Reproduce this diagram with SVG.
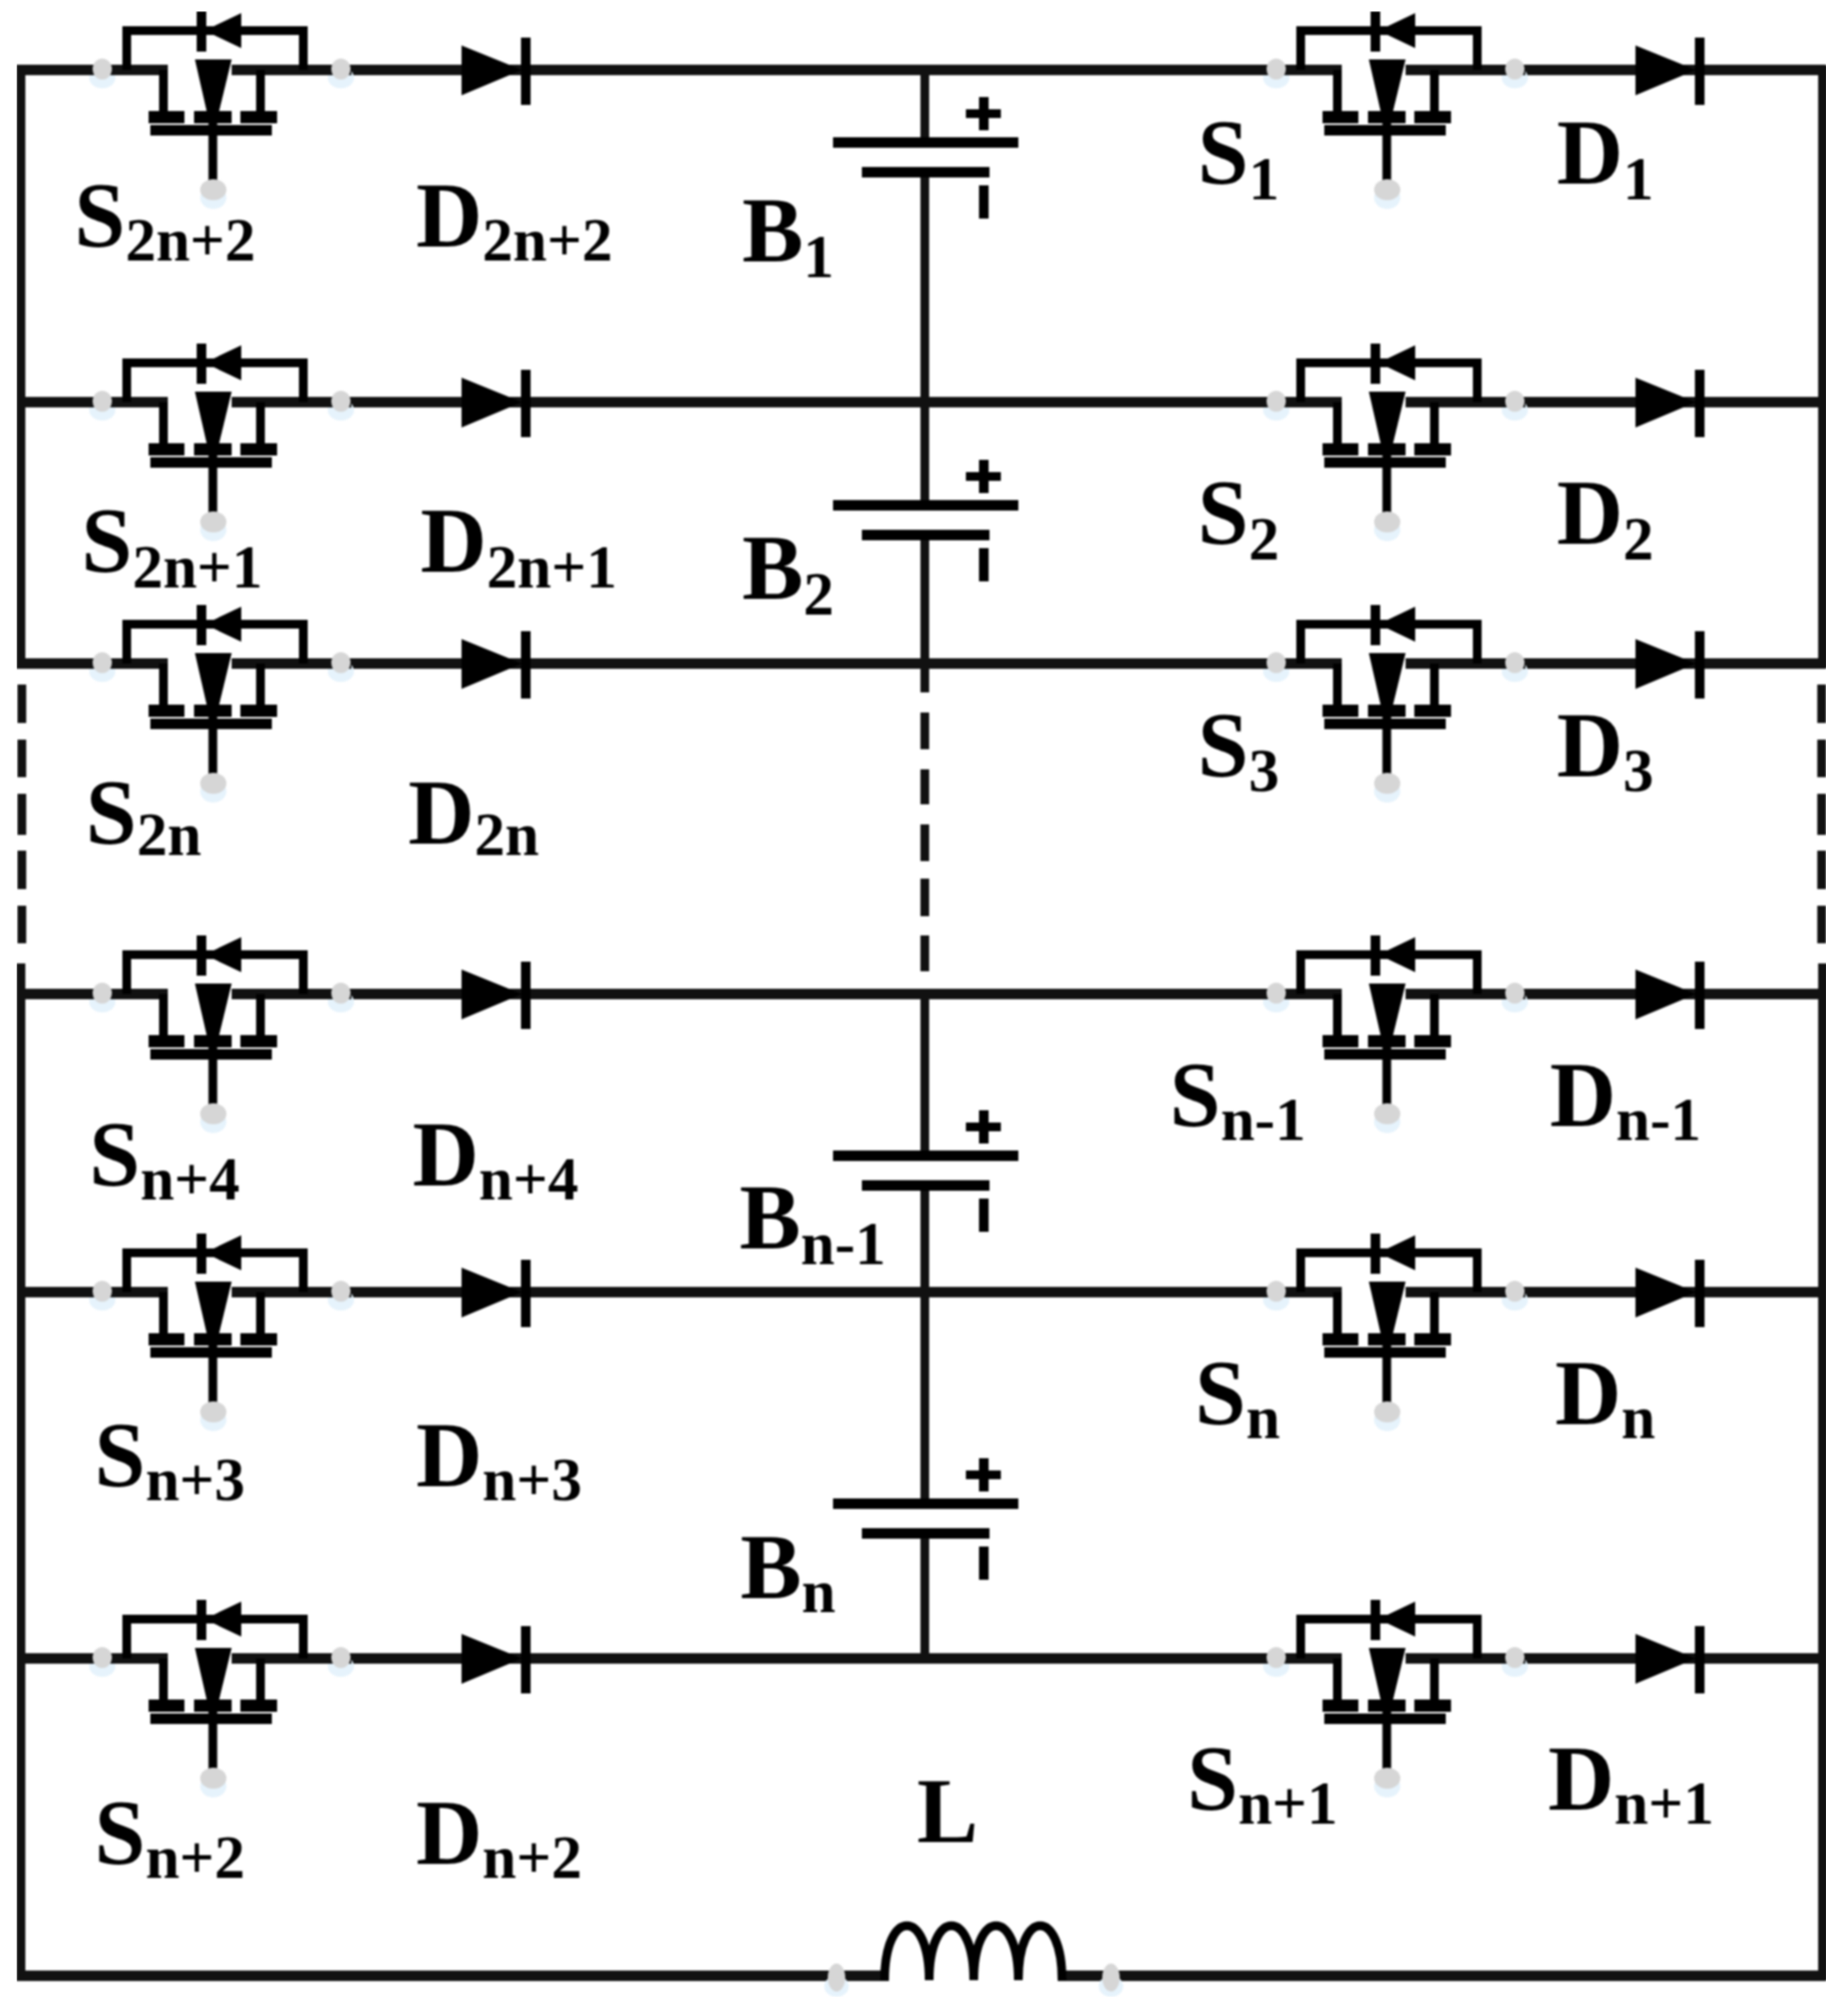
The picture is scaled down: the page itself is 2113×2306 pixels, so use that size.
<svg xmlns="http://www.w3.org/2000/svg" xmlns:xlink="http://www.w3.org/1999/xlink" width="2113" height="2306" viewBox="0 0 2113 2306">
<style>
.w{fill:none;stroke:#111;stroke-width:12}
.r{fill:none;stroke:#111;stroke-width:10}
.t{fill:none;stroke:#000;stroke-width:10}
.b{fill:#000;stroke:none}
.dot{fill:#d6d6d6}
.glow{fill:#e6f3fc}
text{font-family:"Liberation Serif","Times New Roman",serif;font-weight:bold;font-size:105px;fill:#000}
.s{font-size:70px}
</style>
<defs>
<filter id="soft" x="0" y="0" width="100%" height="100%" filterUnits="objectBoundingBox" color-interpolation-filters="sRGB"><feGaussianBlur stdDeviation="0.9"/></filter>
<g id="sw">
<ellipse class="glow" cx="117" cy="9" rx="15" ry="12"/>
<ellipse class="glow" cx="390" cy="9" rx="15" ry="12"/>
<ellipse class="glow" cx="244" cy="146" rx="15" ry="13"/>
<path class="w" d="M192 0H100"/>
<path class="w" d="M265 0H402"/>
<path class="t" d="M145 0V-45H347V0"/>
<path class="t" d="M187 0V54M298 0V54M243.500 60V128"/>
<rect class="b" x="170" y="47" width="41" height="14"/>
<rect class="b" x="222" y="47" width="43" height="14"/>
<rect class="b" x="275" y="47" width="42" height="14"/>
<rect class="b" x="172" y="63" width="139" height="12"/>
<path class="b" d="M223-12H265L249 54H238Z"/>
<path class="b" d="M234-45L276-65V-25Z"/>
<rect class="b" x="225" y="-67" width="11" height="46"/>
<ellipse class="dot" cx="117" cy="-1" rx="11" ry="12"/>
<ellipse class="dot" cx="390" cy="-1" rx="11" ry="12"/>
<ellipse class="dot" cx="244" cy="137" rx="15" ry="12"/>
</g>
<g id="di">
<path class="b" d="M528-28L597 0L528 29Z"/>
<rect class="b" x="596" y="-37" width="11" height="77"/>
</g>
<g id="bat">
<rect class="b" x="953" y="-6" width="212" height="12"/>
<rect class="b" x="986" y="28" width="146" height="12"/>
<rect class="b" x="1105" y="-38" width="40" height="10"/>
<rect class="b" x="1120" y="-52" width="11" height="38"/>
<rect class="b" x="1120" y="49" width="11" height="38"/>
</g>
</defs>
<rect width="2113" height="2306" fill="#fff"/>
<g filter="url(#soft)">
<g id="connectors">
<path class="w" d="M19 80H102M402 80H1460M1608 80H2089"/>
<path class="w" d="M19 460H102M402 460H1460M1608 460H2089"/>
<path class="w" d="M19 759H102M402 759H1460M1608 759H2089"/>
<path class="w" d="M19 1137H102M402 1137H1460M1608 1137H2089"/>
<path class="w" d="M19 1478H102M402 1478H1460M1608 1478H2089"/>
<path class="w" d="M19 1897H102M402 1897H1460M1608 1897H2089"/>
<path class="w" d="M19 2260H1017M1210 2260H2089"/>
<path class="r" d="M24 75V764M24 1102V2265M2085 75V764M2085 1102V2265"/>
<path class="r" d="M25 783V827M25 846V889M25 908V955M25 973V1017M25 1036V1079"/>
<path class="r" d="M2084 783V827M2084 846V889M2084 908V955M2084 973V1017M2084 1036V1079"/>
<path class="r" d="M1058 80V163M1058 197V578M1058 610V792M1058 815V857M1058 880V920M1058 943V985M1058 1005V1048M1058 1070V1111M1058 1137V1322M1058 1355V1720M1058 1754V1897"/>
</g>
<g id="S2n2"><use xlink:href="#sw" href="#sw" y="80"/><text x="85" y="282">S<tspan class="s" dy="16">2n+2</tspan></text></g>
<g id="D2n2"><use xlink:href="#di" href="#di" y="80"/><text x="476" y="282">D<tspan class="s" dy="16">2n+2</tspan></text></g>
<g id="S2n1"><use xlink:href="#sw" href="#sw" y="460"/><text x="93" y="654">S<tspan class="s" dy="18">2n+1</tspan></text></g>
<g id="D2n1"><use xlink:href="#di" href="#di" y="460"/><text x="481" y="654">D<tspan class="s" dy="18">2n+1</tspan></text></g>
<g id="S2n"><use xlink:href="#sw" href="#sw" y="759"/><text x="98" y="965">S<tspan class="s" dy="13">2n</tspan></text></g>
<g id="D2n"><use xlink:href="#di" href="#di" y="759"/><text x="467" y="965">D<tspan class="s" dy="13">2n</tspan></text></g>
<g id="Sn4"><use xlink:href="#sw" href="#sw" y="1137"/><text x="102" y="1356">S<tspan class="s" dy="16">n+4</tspan></text></g>
<g id="Dn4"><use xlink:href="#di" href="#di" y="1137"/><text x="472" y="1356">D<tspan class="s" dy="16">n+4</tspan></text></g>
<g id="Sn3"><use xlink:href="#sw" href="#sw" y="1478"/><text x="108" y="1700">S<tspan class="s" dy="16">n+3</tspan></text></g>
<g id="Dn3"><use xlink:href="#di" href="#di" y="1478"/><text x="476" y="1700">D<tspan class="s" dy="16">n+3</tspan></text></g>
<g id="Sn2"><use xlink:href="#sw" href="#sw" y="1897"/><text x="108" y="2132">S<tspan class="s" dy="16">n+2</tspan></text></g>
<g id="Dn2"><use xlink:href="#di" href="#di" y="1897"/><text x="476" y="2132">D<tspan class="s" dy="16">n+2</tspan></text></g>
<g id="S1"><use xlink:href="#sw" href="#sw" x="1343" y="80"/><text x="1370" y="210">S<tspan class="s" dy="18">1</tspan></text></g>
<g id="D1"><use xlink:href="#di" href="#di" x="1343" y="80"/><text x="1781" y="210">D<tspan class="s" dy="18">1</tspan></text></g>
<g id="S2"><use xlink:href="#sw" href="#sw" x="1343" y="460"/><text x="1370" y="622">S<tspan class="s" dy="18">2</tspan></text></g>
<g id="D2"><use xlink:href="#di" href="#di" x="1343" y="460"/><text x="1781" y="622">D<tspan class="s" dy="18">2</tspan></text></g>
<g id="S3"><use xlink:href="#sw" href="#sw" x="1343" y="759"/><text x="1370" y="888">S<tspan class="s" dy="17">3</tspan></text></g>
<g id="D3"><use xlink:href="#di" href="#di" x="1343" y="759"/><text x="1781" y="888">D<tspan class="s" dy="17">3</tspan></text></g>
<g id="Sn1m"><use xlink:href="#sw" href="#sw" x="1343" y="1137"/><text x="1338" y="1288">S<tspan class="s" dy="16">n-1</tspan></text></g>
<g id="Dn1m"><use xlink:href="#di" href="#di" x="1343" y="1137"/><text x="1773" y="1288">D<tspan class="s" dy="16">n-1</tspan></text></g>
<g id="Sn"><use xlink:href="#sw" href="#sw" x="1343" y="1478"/><text x="1367" y="1629">S<tspan class="s" dy="16">n</tspan></text></g>
<g id="Dn"><use xlink:href="#di" href="#di" x="1343" y="1478"/><text x="1779" y="1629">D<tspan class="s" dy="16">n</tspan></text></g>
<g id="Sn1"><use xlink:href="#sw" href="#sw" x="1343" y="1897"/><text x="1358" y="2070">S<tspan class="s" dy="16">n+1</tspan></text></g>
<g id="Dn1"><use xlink:href="#di" href="#di" x="1343" y="1897"/><text x="1771" y="2070">D<tspan class="s" dy="16">n+1</tspan></text></g>
<g id="B1"><use xlink:href="#bat" href="#bat" y="163"/><text x="849" y="299">B<tspan class="s" dy="18">1</tspan></text></g>
<g id="B2"><use xlink:href="#bat" href="#bat" y="578"/><text x="849" y="685">B<tspan class="s" dy="18">2</tspan></text></g>
<g id="Bn1"><use xlink:href="#bat" href="#bat" y="1322"/><text x="846" y="1428">B<tspan class="s" dy="18">n-1</tspan></text></g>
<g id="Bn"><use xlink:href="#bat" href="#bat" y="1720"/><text x="847" y="1828">B<tspan class="s" dy="16">n</tspan></text></g>
<g id="L">
<ellipse class="glow" cx="957" cy="2272" rx="14" ry="12"/>
<ellipse class="glow" cx="1271" cy="2272" rx="14" ry="12"/>
<path fill="none" stroke="#000" stroke-width="10" d="M1012 2265C1012 2182 1063 2182 1063 2265C1063 2182 1114 2182 1114 2265C1114 2182 1165 2182 1165 2265C1165 2182 1215 2182 1215 2265"/>
<ellipse class="dot" cx="957" cy="2262" rx="10" ry="16"/>
<ellipse class="dot" cx="1271" cy="2262" rx="10" ry="16"/>
<text x="1049" y="2107">L</text>
</g>
</g>
</svg>
